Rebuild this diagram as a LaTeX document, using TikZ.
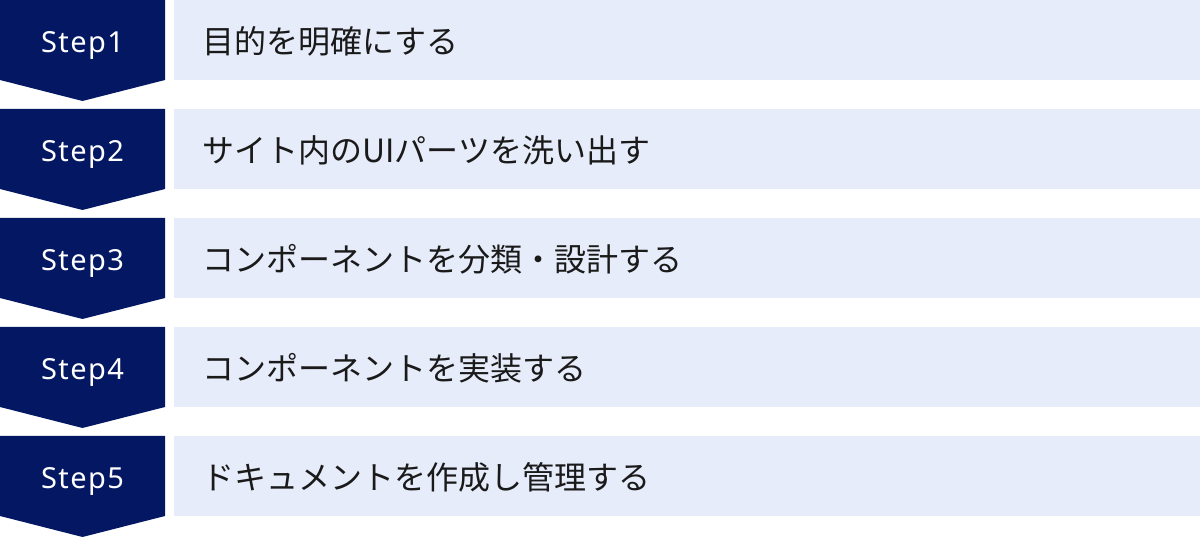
\documentclass[tikz,border=0pt]{standalone}
\usepackage{fontspec}
\setmainfont{Noto Sans}
\newfontfamily\jpfont{Noto Sans CJK JP}
\newfontfamily\stepfont[LetterSpace=5]{Noto Sans}
\usetikzlibrary{positioning}
\definecolor{stepnavy}{HTML}{031762}
\definecolor{stepbg}{HTML}{E6ECF9}
\definecolor{steptext}{HTML}{1A1A1A}
\tikzset{
  steplabel/.style={white, inner sep=0pt, anchor=base, font=\stepfont\fontsize{29}{34}\selectfont},
  tasklabel/.style={steptext, inner sep=0pt, anchor=base west, font=\jpfont\fontsize{32}{36}\selectfont}
}

\begin{document}
\begin{tikzpicture}[x=1pt,y=1pt]
    \useasboundingbox (0,0) rectangle (1200,538);

    % Draw the five steps
    \foreach \i/\txt in {1/目的を明確にする,
                         2/サイト内のUIパーツを洗い出す,
                         3/コンポーネントを分類・設計する,
                         4/コンポーネントを実装する,
                         5/ドキュメントを作成し管理する} {
        \pgfmathsetmacro{\ytop}{538-109*(\i-1)}
        % navy arrow box
        \fill[stepnavy] (0,\ytop) -- (165,\ytop) -- (165,\ytop-80) -- (82.5,\ytop-101) -- (0,\ytop-80) -- cycle;
        % light band
        \fill[stepbg] (174,\ytop) rectangle (1200,\ytop-80);
        \node[steplabel] (step\i) at (82.5,\ytop-53) {Step\i};
        \node[tasklabel] (task\i) at (202,\ytop-54) {\txt};
    }

\end{tikzpicture}
\end{document}
